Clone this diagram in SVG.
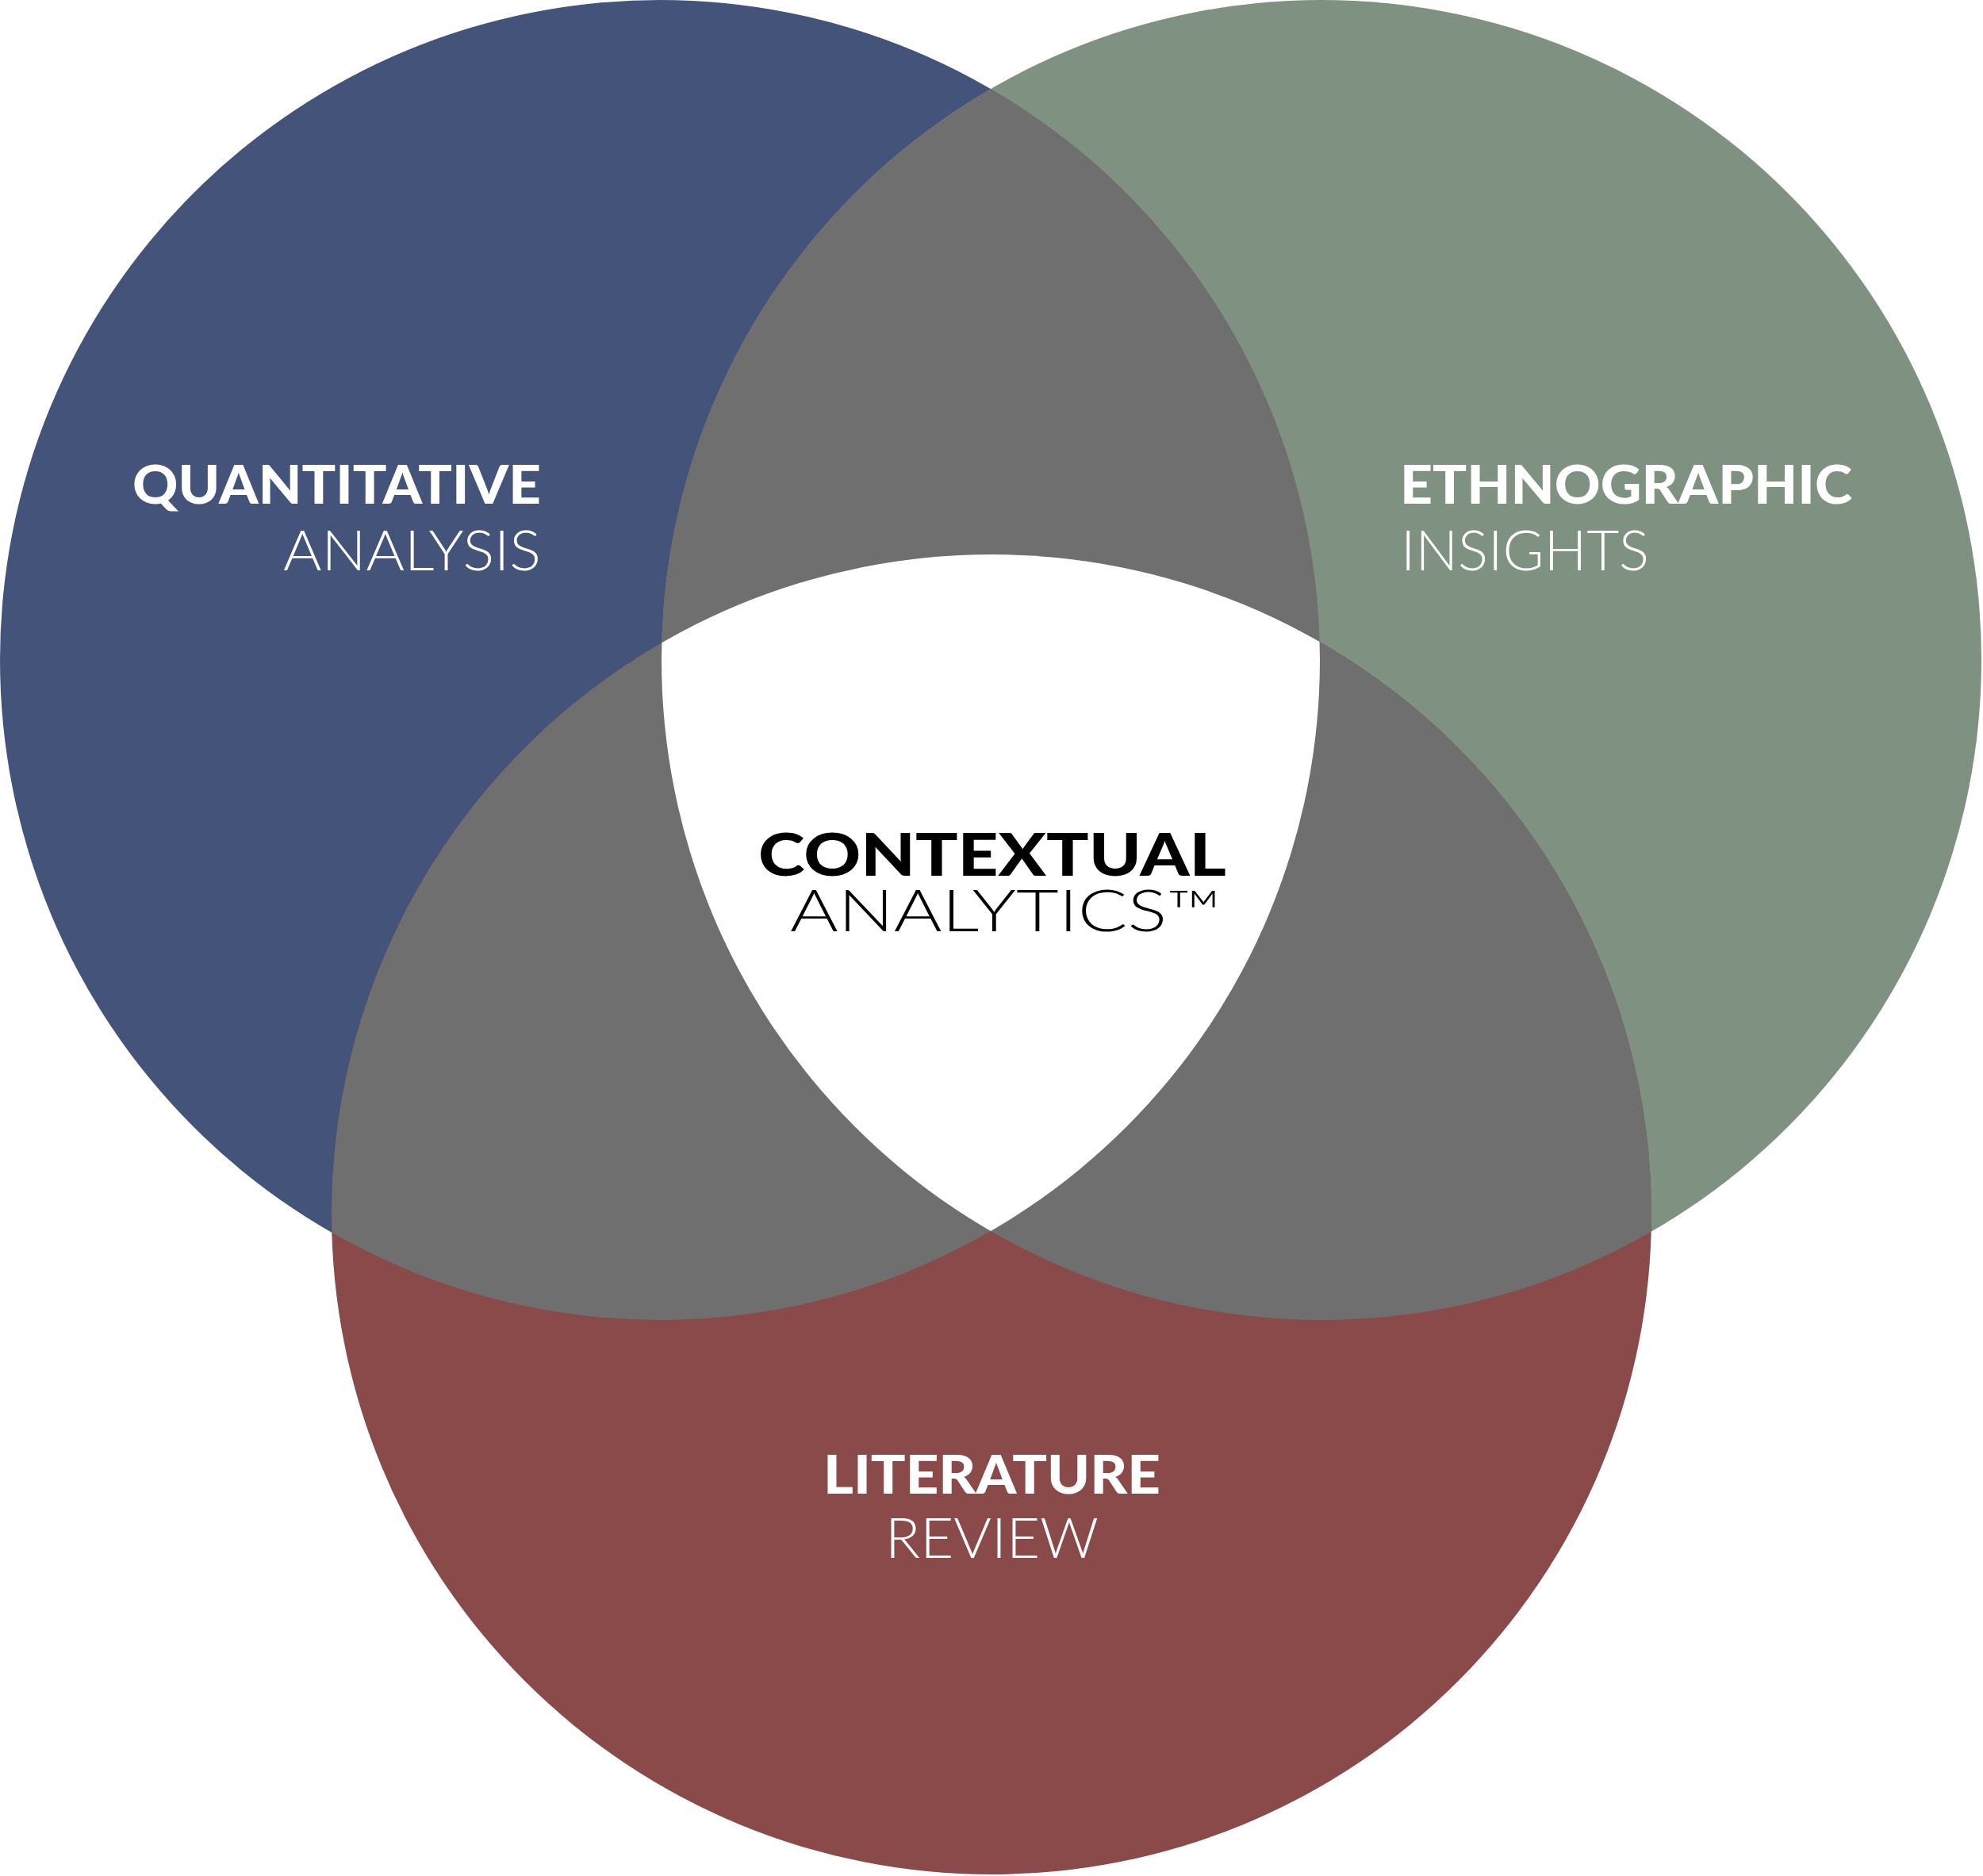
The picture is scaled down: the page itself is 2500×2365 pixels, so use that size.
<svg xmlns="http://www.w3.org/2000/svg" width="2500" height="2365" viewBox="0 0 2500 2365">
<style>
.b{font-family:Lato,"Open Sans","Liberation Sans",sans-serif;font-weight:900;fill:#fff}
.l{font-family:Lato,"Open Sans","Liberation Sans",sans-serif;font-weight:300;fill:#fff}
.g{fill:#6f6f6f}
</style>
<defs>
<clipPath id="cA"><circle cx="832" cy="832" r="832"/></clipPath>
<clipPath id="cB"><circle cx="1666" cy="832" r="832"/></clipPath>
<clipPath id="cC"><circle cx="1250" cy="1531" r="832"/></clipPath>
</defs>
<rect width="2500" height="2365" fill="#fff"/>
<g id="quantitative"><circle cx="832" cy="832" r="832" fill="#44537a"/></g>
<g id="ethnographic"><circle cx="1666" cy="832" r="832" fill="#7f9180"/></g>
<g id="literature"><circle cx="1250" cy="1531" r="832" fill="#8a4a4a"/></g>
<g id="overlaps">
<g clip-path="url(#cA)"><circle class="g" cx="1666" cy="832" r="832"/><circle class="g" cx="1250" cy="1531" r="832"/></g>
<g clip-path="url(#cB)"><circle class="g" cx="1250" cy="1531" r="832"/></g>
</g>
<g id="contextual">
<g clip-path="url(#cA)"><g clip-path="url(#cB)"><circle cx="1250" cy="1531" r="832" fill="#fff"/></g></g>
</g>
<g id="labels">
<text class="b" x="167" y="635" font-size="66" textLength="515" lengthAdjust="spacingAndGlyphs">QUANTITATIVE</text>
<text class="l" x="357" y="719" font-size="70" textLength="325" lengthAdjust="spacingAndGlyphs">ANALYSIS</text>
<text class="b" x="1765" y="635" font-size="66" textLength="570" lengthAdjust="spacingAndGlyphs">ETHNOGRAPHIC</text>
<text class="l" x="1766" y="719" font-size="70" textLength="313" lengthAdjust="spacingAndGlyphs">INSIGHTS</text>
<text class="b" x="956" y="1104" font-size="74" textLength="590" lengthAdjust="spacingAndGlyphs" style="fill:#000">CONTEXTUAL</text>
<text class="l" x="996" y="1174" font-size="72" textLength="544" lengthAdjust="spacingAndGlyphs" style="fill:#000">ANALYTICS™</text>
<text class="b" x="1038" y="1883" font-size="66" textLength="425" lengthAdjust="spacingAndGlyphs">LITERATURE</text>
<text class="l" x="1116" y="1964" font-size="70" textLength="269" lengthAdjust="spacingAndGlyphs">REVIEW</text>
</g>
</svg>
